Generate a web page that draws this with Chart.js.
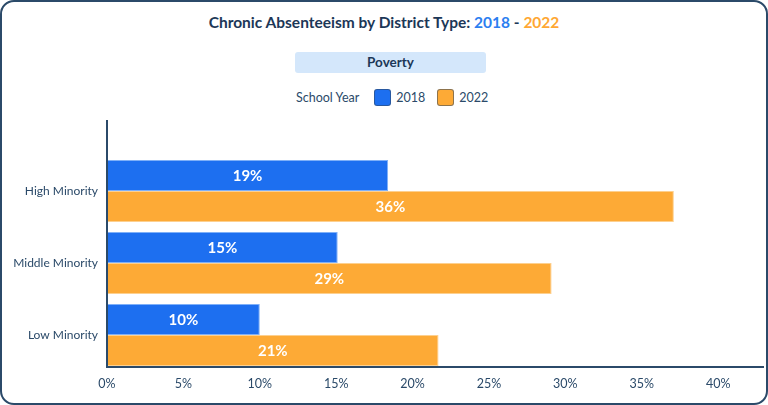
<!DOCTYPE html>
<html>
<head>
<meta charset="utf-8">
<script src="https://cdn.jsdelivr.net/npm/chart.js@4"></script>
<style>
    body { margin: 0; background: #fff; font-family: Lato, sans-serif; }
    #card { position: relative; width: 768px; height: 405px; overflow: hidden; }
    #frame {
        position: absolute; left: 0; top: 0; width: 768px; height: 405px;
        box-sizing: border-box; border: 2px solid #2b4a69; border-radius: 14px;
        pointer-events: none;
    }
    #title {
        position: absolute; left: 0; top: 13px; width: 768px; text-align: center;
        font-weight: bold; font-size: 15.5px; color: #1c3757;
    }
    #pill {
        position: absolute; left: 295px; top: 52px; width: 191px; height: 21px;
        background: #d4e7fb; border-radius: 3px; text-align: center;
        line-height: 21px; font-weight: bold; font-size: 13.5px; color: #1c3757;
    }
    #legend {
        position: absolute; left: 296px; top: 89px; height: 17px;
        display: flex; align-items: center; font-size: 12.5px; color: #2b4a69;
    }
    #legend .box {
        width: 15px; height: 15px; border-radius: 3px; margin: 0 5px 0 0;
        border: 1px solid rgba(50, 70, 95, 0.55);
    }
    #legend .name { margin-right: 12px; }
    #canvasWrap { position: absolute; left: 0; top: 0; width: 768px; height: 405px; }
</style>
</head>
<body>
<div id="card">
    <div id="title"></div>
    <div id="pill">Poverty</div>
    <div id="legend"></div>
    <div id="canvasWrap"><canvas id="absChart"></canvas></div>
    <div id="frame"></div>
</div>
<script>
// Data
const categories = ['High Minority', 'Middle Minority', 'Low Minority'];
const years = ['2018', '2022'];
const values2018 = [18.4, 15.1, 10.0];
const values2022 = [37.1, 29.1, 21.7];
const shown2018 = [19, 15, 10];   // label text printed on the bars
const shown2022 = [36, 29, 21];
const xTicks = [0, 5, 10, 15, 20, 25, 30, 35, 40];
const xMax = 43;

const colors = ['#1d6ff0', '#fdaa36'];
const edgeColors = ['#7fb0f8', '#fdd08f'];
const axisColor = '#2b4a69';

// Title with coloured years
document.getElementById('title').innerHTML =
    'Chronic Absenteeism by District Type: ' +
    '<span style="color:#2b7ef0">' + years[0] + '</span> - ' +
    '<span style="color:#ffa733">' + years[1] + '</span>';

// Legend
const legend = document.getElementById('legend');
let html = '<span style="margin-right:15px">School Year</span>';
years.forEach((y, i) => {
    html += '<span class="box" style="background:' + colors[i] + '"></span>' +
            '<span class="name">' + y + '</span>';
});
legend.innerHTML = html;

// Labels in the middle of each bar
const barLabels = {
    id: 'barLabels',
    afterDatasetsDraw(chart) {
        const ctx = chart.ctx;
        const shown = [shown2018, shown2022];
        ctx.save();
        ctx.font = 'bold 15px Lato, sans-serif';
        ctx.fillStyle = '#ffffff';
        ctx.textAlign = 'center';
        ctx.textBaseline = 'middle';
        chart.data.datasets.forEach((ds, di) => {
            chart.getDatasetMeta(di).data.forEach((bar, i) => {
                ctx.fillText(shown[di][i] + '%', (bar.x + bar.base) / 2, bar.y + 1);
            });
        });
        ctx.restore();
    }
};

// Axis lines: y line runs up above the first group, x line sits under the last bar
const axisLines = {
    id: 'axisLines',
    afterDatasetsDraw(chart) {
        const ctx = chart.ctx;
        const area = chart.chartArea;
        let bottom = 0;
        chart.data.datasets.forEach((ds, di) => {
            chart.getDatasetMeta(di).data.forEach(bar => {
                bottom = Math.max(bottom, bar.y + bar.height / 2);
            });
        });
        ctx.save();
        ctx.strokeStyle = axisColor;
        ctx.lineWidth = 2;
        ctx.beginPath();
        ctx.moveTo(area.left, area.top - 35);
        ctx.lineTo(area.left, bottom + 1);
        ctx.lineTo(area.right, bottom + 1);
        ctx.stroke();
        ctx.restore();
    }
};

new Chart(document.getElementById('absChart'), {
    type: 'bar',
    data: {
        labels: categories,
        datasets: [
            {
                label: years[0],
                data: values2018,
                backgroundColor: colors[0],
                borderColor: edgeColors[0],
                borderWidth: 1
            },
            {
                label: years[1],
                data: values2022,
                backgroundColor: colors[1],
                borderColor: edgeColors[1],
                borderWidth: 1
            }
        ]
    },
    options: {
        indexAxis: 'y',
        responsive: true,
        maintainAspectRatio: false,
        animation: false,
        datasets: {
            bar: { barPercentage: 1, categoryPercentage: 0.86 }
        },
        layout: { padding: { top: 155, right: 4, left: 0, bottom: 0 } },
        plugins: {
            legend: { display: false },
            title: { display: false },
            tooltip: { enabled: false }
        },
        scales: {
            x: {
                min: 0,
                max: xMax,
                grid: { display: false, drawTicks: false },
                border: { display: false },
                afterBuildTicks: scale => {
                    scale.ticks = xTicks.map(v => ({ value: v }));
                },
                afterFit: scale => { scale.height = 34; },
                ticks: {
                    padding: 5,
                    color: axisColor,
                    font: { family: 'Lato', size: 12.5 },
                    callback: v => v + '%'
                }
            },
            y: {
                grid: { display: false, drawTicks: false },
                border: { display: false },
                afterFit: scale => { scale.width = 107; },
                ticks: {
                    padding: 9,
                    color: axisColor,
                    font: { family: 'Lato', size: 12 }
                }
            }
        }
    },
    plugins: [barLabels, axisLines]
});
</script>
</body>
</html>
